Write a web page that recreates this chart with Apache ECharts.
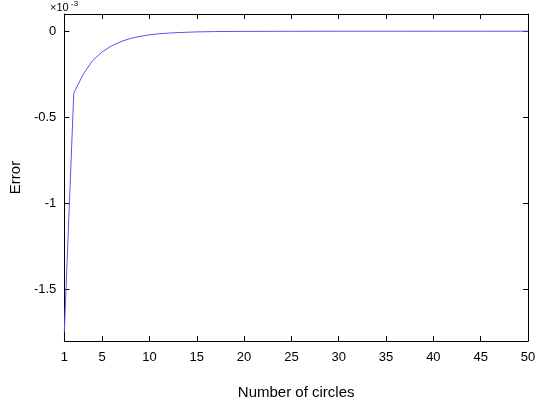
<!DOCTYPE html>
<html><head><meta charset="utf-8">
<script src="https://cdn.jsdelivr.net/npm/echarts@6/dist/echarts.min.js"></script>
<style>html,body{margin:0;padding:0;background:#fff}#c{width:550px;height:411px}</style>
</head><body><div id="c"></div>
<script>
const xTicks=[1,5,10,15,20,25,30,35,40,45,50];
const yTicks=[-1.5,-1,-0.5,0];
const xs=[1,2,3,4,5,6,7,8,9,10,11,12,13,14,15,17,20,25,30,35,40,45,50];
const errs=[-1.75,-0.36,-0.25,-0.17,-0.12,-0.085,-0.06,-0.042,-0.03,-0.021,-0.015,-0.011,-0.008,-0.006,-0.004,-0.002,-0.001,-0.0005,-0.0002,-0.0001,0,0,0];
const font='Liberation Sans, Arial, sans-serif';
const ax={onZero:false,lineStyle:{color:'#000',width:1}};
const chart=echarts.init(document.getElementById('c'));
chart.setOption({
 animation:false,
 grid:{left:47,right:22,top:14,bottom:70},
 xAxis:[{type:'value',min:1,max:50,name:'Number of circles',nameLocation:'middle',nameGap:44,
   nameTextStyle:{fontFamily:font,fontSize:15,color:'#000'},
   axisLine:ax,axisTick:{inside:true,length:5,customValues:xTicks,lineStyle:{color:'#000'}},
   axisLabel:{customValues:xTicks,fontFamily:font,fontSize:13,color:'#000',margin:10},splitLine:{show:false}},
  {type:'value',position:'top',min:1,max:50,axisLine:ax,axisTick:{inside:true,length:5,customValues:xTicks,lineStyle:{color:'#000'}},axisLabel:{show:false},splitLine:{show:false}}],
 yAxis:[{type:'value',min:-1.8,max:0.1,name:'Error',nameLocation:'middle',nameGap:32,
   nameTextStyle:{fontFamily:font,fontSize:15,color:'#000'},
   axisLine:{show:true,onZero:false,lineStyle:{color:'#000'}},axisTick:{show:true,inside:true,length:5,customValues:yTicks,lineStyle:{color:'#000'}},
   axisLabel:{customValues:yTicks,fontFamily:font,fontSize:13,color:'#000',margin:8,formatter:v=>String(v)},splitLine:{show:false}},
  {type:'value',position:'right',min:-1.8,max:0.1,axisLine:{show:true,onZero:false,lineStyle:{color:'#000'}},axisTick:{show:true,inside:true,length:5,customValues:yTicks,lineStyle:{color:'#000'}},axisLabel:{show:false},splitLine:{show:false}}],
 graphic:[{type:'text',left:50,top:2,style:{text:'×10',font:'11px '+font,fill:'#000'}},
   {type:'text',left:71,top:0,style:{text:'-3',font:'8px '+font,fill:'#000'}}],
 series:[{type:'line',data:xs.map((x,i)=>[x,errs[i]]),showSymbol:false,lineStyle:{color:'#5555ee',width:1}}]
});
</script></body></html>
